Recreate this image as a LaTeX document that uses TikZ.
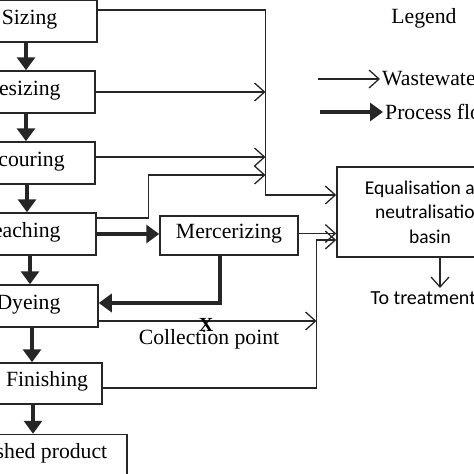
\documentclass[tikz,border=0pt]{standalone}
\usepackage{fontspec}
\setmainfont{Liberation Serif}
\newfontfamily\basinfont{Carlito}
\usetikzlibrary{arrows.meta}
\definecolor{ink}{HTML}{262626}
\tikzset{
	stage/.style={draw=ink, line width=1.5pt, minimum height=42pt, text height=0.66em, text depth=0pt, inner sep=0pt},
	waste/.style={draw=ink, line width=1.3pt, -{Straight Barb[length=10pt,width=18pt]}},
	flow/.style={draw=ink, line width=3.5pt, -{Triangle[length=13pt,width=18pt]}},
}

\begin{document}
\begin{tikzpicture}[x=1pt, y=-1pt, font=\fontsize{21.7}{26}\selectfont]
	\useasboundingbox (0,0) rectangle (474,474);
	\clip (0,0) rectangle (474,474);
	% process stages
	\node[stage, minimum width=135pt] (siz) at (29.5,21) {Sizing};
	\node[stage, minimum width=146pt] (desiz) at (22,92) {Desizing};
	\node[stage, minimum width=139pt] (scour) at (25.5,163) {Scouring};
	\node[stage, minimum width=159pt] (bleach) at (16.5,234) {Bleaching};
	\node[stage, minimum width=139pt] (dye) at (28.5,306) {Dyeing};
	\node[stage, minimum width=110pt, minimum height=41pt] (finish) at (47,383.5) {Finishing};
	\node[stage, minimum width=186pt] (prod) at (34,455.5) {Finished product};
	\node[stage, minimum width=138pt, minimum height=39pt] (merc) at (229,235.5) {Mercerizing};
	\node[draw=ink, line width=1.5pt, minimum width=186pt, minimum height=90pt, align=center,
		font=\basinfont\fontsize{19.5}{24.5}\selectfont] (basin) at (430,212)
		{Equalisation and\\ neutralisation\\ basin};
	\node[anchor=base west, inner ysep=3pt, font=\basinfont\fontsize{20}{24}\selectfont] (treat) at (367,304) {To treatment};
	% process flow
	\foreach \a/\b/\x in {siz/desiz/26, desiz/scour/26, scour/bleach/27, bleach/dye/30, dye/finish/32, finish/prod/33}
		\draw[flow] (\a.south -| \x,0) -- (\b.north -| \x,0);
	\draw[flow] (bleach.east) -- (bleach.east -| merc.west);
	\draw[flow] (merc.south -| 220,0) |- ([yshift=3pt]dye.east);
	% wastewater
	\coordinate (jn) at (265.5,195);
	\coordinate (fin) at (316.5,240);
	\draw[waste] ([yshift=11pt]siz.east) -| (jn) -- (jn -| basin.west);
	\draw[waste] (desiz.east) -- (desiz.east -| jn);
	\draw[waste] ([yshift=6pt]scour.east) coordinate (sco) -- (sco -| jn);
	\draw[waste] ([yshift=16pt]bleach.east) -- ++(52,0) |- (jn |- 0,175);
	\draw[waste] ([yshift=2pt]merc.east) coordinate (mco) -- (mco -| basin.west);
	\draw[waste] ([yshift=-15pt]dye.east) coordinate (dyo) -- (dyo -| fin);
	\draw[waste] ([yshift=-4.5pt]finish.east) -| (fin) -- (fin -| basin.west);
	\draw[waste] (basin.south -| 440,0) -- (treat.north -| 440,0);
	\node[anchor=base, font=\bfseries\fontsize{20}{22}\selectfont] (xmark) at (206,331) {X};
	\node[anchor=base] (coll) at (209,344) {Collection point};
	% legend
	\node[anchor=base] (leg) at (424,23) {Legend};
	\node[anchor=west, inner sep=2pt] (wwlab) at (380,79) {Wastewater};
	\coordinate (wwtail) at (318,79);
	\draw[waste] (wwtail) -- (wwlab.west);
	\node[anchor=west, inner sep=2pt] (pflab) at (383,112) {Process flow};
	\coordinate (pftail) at (320,112);
	\draw[flow] (pftail) -- (pflab.west);
\end{tikzpicture}
\end{document}
